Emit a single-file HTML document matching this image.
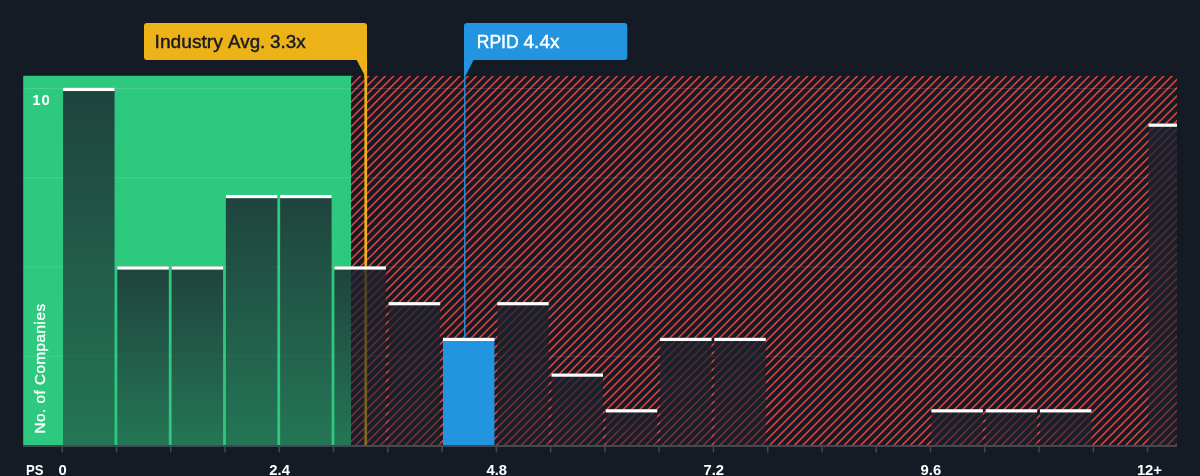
<!DOCTYPE html>
<html lang="en"><head><meta charset="utf-8"><title>PS ratio vs industry</title>
<style>html,body{margin:0;padding:0;background:#151b24;}body{width:1200px;height:476px;overflow:hidden;}svg{display:block;}text{font-family:"Liberation Sans",sans-serif;}svg{will-change:transform;}</style></head><body>
<svg width="1200" height="476" viewBox="0 0 1200 476">
<defs>
<linearGradient id="bar" x1="0" y1="0" x2="0" y2="1"><stop offset="0" stop-color="#1b222d" stop-opacity="0.8"/><stop offset="1" stop-color="#1b222d" stop-opacity="0.5"/></linearGradient>
<clipPath id="plot"><path d="M23.2,75.8 H1174 a3,3 0 0 1 3,3 V445.2 H23.2 Z"/></clipPath>
</defs>
<rect width="1200" height="476" fill="#151b24"/>
<g clip-path="url(#plot)">
<rect x="23" y="75" width="328" height="371" fill="#2dc97e"/>
<clipPath id="hz"><path d="M351,75.8 H1174 a3,3 0 0 1 3,3 V445.2 H351 Z"/></clipPath>
<path clip-path="url(#hz)" d="M349.95,70L-30.05,450M358.24,70L-21.76,450M366.52,70L-13.48,450M374.80,70L-5.20,450M383.08,70L3.08,450M391.36,70L11.36,450M399.64,70L19.64,450M407.92,70L27.92,450M416.20,70L36.20,450M424.48,70L44.48,450M432.76,70L52.76,450M441.04,70L61.04,450M449.32,70L69.32,450M457.60,70L77.60,450M465.88,70L85.88,450M474.17,70L94.17,450M482.45,70L102.45,450M490.73,70L110.73,450M499.01,70L119.01,450M507.29,70L127.29,450M515.57,70L135.57,450M523.85,70L143.85,450M532.13,70L152.13,450M540.41,70L160.41,450M548.69,70L168.69,450M556.97,70L176.97,450M565.25,70L185.25,450M573.53,70L193.53,450M581.81,70L201.81,450M590.10,70L210.10,450M598.38,70L218.38,450M606.66,70L226.66,450M614.94,70L234.94,450M623.22,70L243.22,450M631.50,70L251.50,450M639.78,70L259.78,450M648.06,70L268.06,450M656.34,70L276.34,450M664.62,70L284.62,450M672.90,70L292.90,450M681.18,70L301.18,450M689.46,70L309.46,450M697.74,70L317.74,450M706.03,70L326.03,450M714.31,70L334.31,450M722.59,70L342.59,450M730.87,70L350.87,450M739.15,70L359.15,450M747.43,70L367.43,450M755.71,70L375.71,450M763.99,70L383.99,450M772.27,70L392.27,450M780.55,70L400.55,450M788.83,70L408.83,450M797.11,70L417.11,450M805.39,70L425.39,450M813.67,70L433.67,450M821.95,70L441.95,450M830.24,70L450.24,450M838.52,70L458.52,450M846.80,70L466.80,450M855.08,70L475.08,450M863.36,70L483.36,450M871.64,70L491.64,450M879.92,70L499.92,450M888.20,70L508.20,450M896.48,70L516.48,450M904.76,70L524.76,450M913.04,70L533.04,450M921.32,70L541.32,450M929.60,70L549.60,450M937.88,70L557.88,450M946.17,70L566.17,450M954.45,70L574.45,450M962.73,70L582.73,450M971.01,70L591.01,450M979.29,70L599.29,450M987.57,70L607.57,450M995.85,70L615.85,450M1004.13,70L624.13,450M1012.41,70L632.41,450M1020.69,70L640.69,450M1028.97,70L648.97,450M1037.25,70L657.25,450M1045.53,70L665.53,450M1053.81,70L673.81,450M1062.10,70L682.10,450M1070.38,70L690.38,450M1078.66,70L698.66,450M1086.94,70L706.94,450M1095.22,70L715.22,450M1103.50,70L723.50,450M1111.78,70L731.78,450M1120.06,70L740.06,450M1128.34,70L748.34,450M1136.62,70L756.62,450M1144.90,70L764.90,450M1153.18,70L773.18,450M1161.46,70L781.46,450M1169.74,70L789.74,450M1178.03,70L798.03,450M1186.31,70L806.31,450M1194.59,70L814.59,450M1202.87,70L822.87,450M1211.15,70L831.15,450M1219.43,70L839.43,450M1227.71,70L847.71,450M1235.99,70L855.99,450M1244.27,70L864.27,450M1252.55,70L872.55,450M1260.83,70L880.83,450M1269.11,70L889.11,450M1277.39,70L897.39,450M1285.67,70L905.67,450M1293.95,70L913.95,450M1302.24,70L922.24,450M1310.52,70L930.52,450M1318.80,70L938.80,450M1327.08,70L947.08,450M1335.36,70L955.36,450M1343.64,70L963.64,450M1351.92,70L971.92,450M1360.20,70L980.20,450M1368.48,70L988.48,450M1376.76,70L996.76,450M1385.04,70L1005.04,450M1393.32,70L1013.32,450M1401.60,70L1021.60,450M1409.88,70L1029.88,450M1418.17,70L1038.17,450M1426.45,70L1046.45,450M1434.73,70L1054.73,450M1443.01,70L1063.01,450M1451.29,70L1071.29,450M1459.57,70L1079.57,450M1467.85,70L1087.85,450M1476.13,70L1096.13,450M1484.41,70L1104.41,450M1492.69,70L1112.69,450M1500.97,70L1120.97,450M1509.25,70L1129.25,450M1517.53,70L1137.53,450M1525.81,70L1145.81,450M1534.10,70L1154.10,450M1542.38,70L1162.38,450M1550.66,70L1170.66,450" stroke="#e14040" stroke-width="1.6" fill="none"/>
<rect x="364.4" y="60" width="2.7" height="386" fill="#eeb219"/>
<rect x="23" y="88.00" width="1154" height="1" fill="#fff" fill-opacity="0.12"/>
<rect x="23" y="177.28" width="1154" height="1" fill="#fff" fill-opacity="0.12"/>
<rect x="23" y="266.55" width="1154" height="1" fill="#fff" fill-opacity="0.12"/>
<rect x="23" y="355.82" width="1154" height="1" fill="#fff" fill-opacity="0.12"/>
<rect x="63.05" y="88.10" width="51.50" height="357.10" fill="url(#bar)"/>
<rect x="117.32" y="266.65" width="51.50" height="178.55" fill="url(#bar)"/>
<rect x="171.59" y="266.65" width="51.50" height="178.55" fill="url(#bar)"/>
<rect x="225.86" y="195.23" width="51.50" height="249.97" fill="url(#bar)"/>
<rect x="280.13" y="195.23" width="51.50" height="249.97" fill="url(#bar)"/>
<rect x="334.40" y="266.65" width="51.50" height="178.55" fill="url(#bar)"/>
<rect x="388.67" y="302.36" width="51.50" height="142.84" fill="url(#bar)"/>
<rect x="497.21" y="302.36" width="51.50" height="142.84" fill="url(#bar)"/>
<rect x="551.48" y="373.78" width="51.50" height="71.42" fill="url(#bar)"/>
<rect x="605.75" y="409.49" width="51.50" height="35.71" fill="url(#bar)"/>
<rect x="660.02" y="338.07" width="51.50" height="107.13" fill="url(#bar)"/>
<rect x="714.29" y="338.07" width="51.50" height="107.13" fill="url(#bar)"/>
<rect x="931.37" y="409.49" width="51.50" height="35.71" fill="url(#bar)"/>
<rect x="985.64" y="409.49" width="51.50" height="35.71" fill="url(#bar)"/>
<rect x="1039.91" y="409.49" width="51.50" height="35.71" fill="url(#bar)"/>
<rect x="1148.45" y="123.81" width="51.50" height="321.39" fill="url(#bar)"/>
<rect x="63.05" y="87.85" width="51.50" height="3.2" fill="#fff"/>
<rect x="117.32" y="266.40" width="51.50" height="3.2" fill="#fff"/>
<rect x="171.59" y="266.40" width="51.50" height="3.2" fill="#fff"/>
<rect x="225.86" y="194.98" width="51.50" height="3.2" fill="#fff"/>
<rect x="280.13" y="194.98" width="51.50" height="3.2" fill="#fff"/>
<rect x="334.40" y="266.40" width="51.50" height="3.2" fill="#fff"/>
<rect x="388.67" y="302.11" width="51.50" height="3.2" fill="#fff"/>
<rect x="442.94" y="338.07" width="51.50" height="107.13" fill="#2394df"/>
<rect x="442.94" y="337.82" width="51.50" height="3.2" fill="#fff"/>
<rect x="497.21" y="302.11" width="51.50" height="3.2" fill="#fff"/>
<rect x="551.48" y="373.53" width="51.50" height="3.2" fill="#fff"/>
<rect x="605.75" y="409.24" width="51.50" height="3.2" fill="#fff"/>
<rect x="660.02" y="337.82" width="51.50" height="3.2" fill="#fff"/>
<rect x="714.29" y="337.82" width="51.50" height="3.2" fill="#fff"/>
<rect x="931.37" y="409.24" width="51.50" height="3.2" fill="#fff"/>
<rect x="985.64" y="409.24" width="51.50" height="3.2" fill="#fff"/>
<rect x="1039.91" y="409.24" width="51.50" height="3.2" fill="#fff"/>
<rect x="1148.45" y="123.56" width="51.50" height="3.2" fill="#fff"/>
</g>
<rect x="364.4" y="58" width="2.7" height="20" fill="#eeb219"/>
<rect x="464.1" y="58" width="1.35" height="280.07" fill="#2394df"/>
<path d="M147,23 H364 a3,3 0 0 1 3,3 V76 H365 L356.7,60 H147 a3,3 0 0 1 -3,-3 V26 a3,3 0 0 1 3,-3 Z" fill="#eeb219"/>
<path d="M467,23 H624.3 a3,3 0 0 1 3,3 V57 a3,3 0 0 1 -3,3 H473.5 L465.5,76 H464 V26 a3,3 0 0 1 3,-3 Z" fill="#2394df"/>
<g font-size="19" fill="#151b24" stroke="#151b24" stroke-width="0.45"><text x="154.6" y="48.3" textLength="68.2" lengthAdjust="spacingAndGlyphs">Industry</text><text x="228.1" y="48.3" textLength="37.2" lengthAdjust="spacingAndGlyphs">Avg.</text><text x="270.0" y="48.3" textLength="35.6" lengthAdjust="spacingAndGlyphs">3.3x</text></g>
<g font-size="19" fill="#fff" stroke="#fff" stroke-width="0.45"><text x="476.7" y="48.3" textLength="42" lengthAdjust="spacingAndGlyphs">RPID</text><text x="523.6" y="48.3" textLength="35.8" lengthAdjust="spacingAndGlyphs">4.4x</text></g>
<rect x="23" y="445" width="1154" height="2" fill="#434853"/>
<rect x="61.45" y="447" width="1.5" height="5.5" fill="#434853"/>
<rect x="115.72" y="447" width="1.5" height="5.5" fill="#434853"/>
<rect x="169.99" y="447" width="1.5" height="5.5" fill="#434853"/>
<rect x="224.26" y="447" width="1.5" height="5.5" fill="#434853"/>
<rect x="278.53" y="447" width="1.5" height="5.5" fill="#434853"/>
<rect x="332.80" y="447" width="1.5" height="5.5" fill="#434853"/>
<rect x="387.07" y="447" width="1.5" height="5.5" fill="#434853"/>
<rect x="441.34" y="447" width="1.5" height="5.5" fill="#434853"/>
<rect x="495.61" y="447" width="1.5" height="5.5" fill="#434853"/>
<rect x="549.88" y="447" width="1.5" height="5.5" fill="#434853"/>
<rect x="604.15" y="447" width="1.5" height="5.5" fill="#434853"/>
<rect x="658.42" y="447" width="1.5" height="5.5" fill="#434853"/>
<rect x="712.69" y="447" width="1.5" height="5.5" fill="#434853"/>
<rect x="766.96" y="447" width="1.5" height="5.5" fill="#434853"/>
<rect x="821.23" y="447" width="1.5" height="5.5" fill="#434853"/>
<rect x="875.50" y="447" width="1.5" height="5.5" fill="#434853"/>
<rect x="929.77" y="447" width="1.5" height="5.5" fill="#434853"/>
<rect x="984.04" y="447" width="1.5" height="5.5" fill="#434853"/>
<rect x="1038.31" y="447" width="1.5" height="5.5" fill="#434853"/>
<rect x="1092.58" y="447" width="1.5" height="5.5" fill="#434853"/>
<rect x="1146.85" y="447" width="1.5" height="5.5" fill="#434853"/>
<g font-size="14.8" font-weight="700" fill="#fff">
<text x="26" y="474.5" textLength="17.5" lengthAdjust="spacingAndGlyphs">PS</text>
<text x="62.55" y="474.5" text-anchor="middle">0</text>
<text x="279.63" y="474.5" text-anchor="middle">2.4</text>
<text x="496.71" y="474.5" text-anchor="middle">4.8</text>
<text x="713.79" y="474.5" text-anchor="middle">7.2</text>
<text x="930.87" y="474.5" text-anchor="middle">9.6</text>
<text x="1149.45" y="474.5" text-anchor="middle">12+</text>
<text x="32.3" y="105.2" letter-spacing="0.9">10</text>
</g>
<text transform="translate(45.4,433.5) rotate(-90)" font-size="15.2" fill="#fff" stroke="#fff" stroke-width="0.35" textLength="129.5" lengthAdjust="spacing">No. of Companies</text>
</svg></body></html>
